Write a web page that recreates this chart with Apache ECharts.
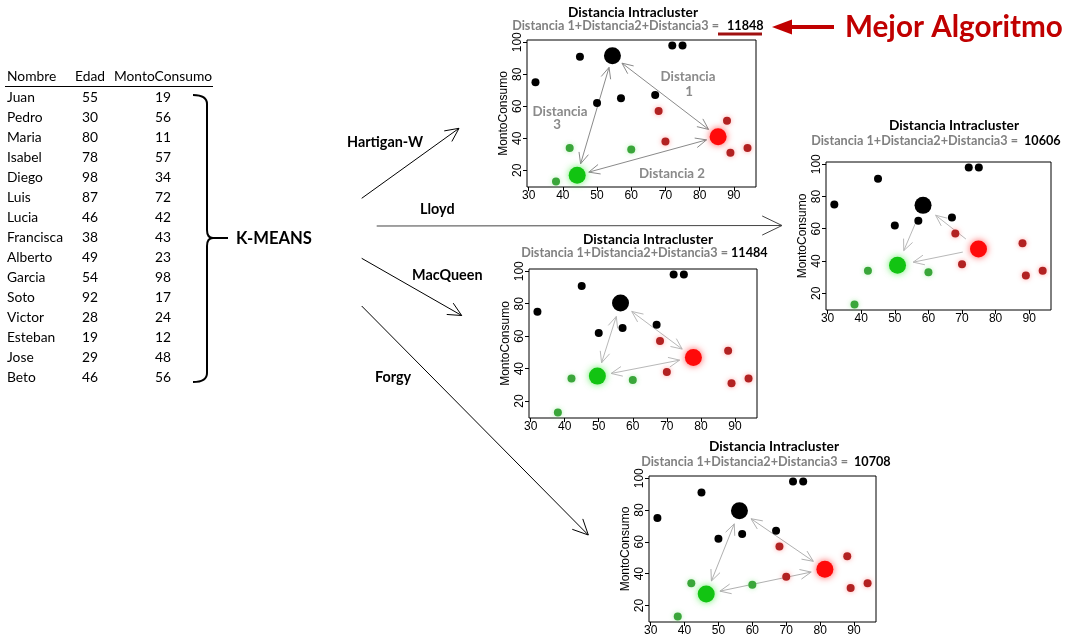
<!DOCTYPE html>
<html><head><meta charset="utf-8">
<script src="https://cdn.jsdelivr.net/npm/echarts@6/dist/echarts.min.js"></script>
<style>html,body{margin:0;padding:0;background:#fff}#c{width:1076px;height:644px}</style>
</head><body><div id="c"></div>
<script>
// ---------- DATA ----------
const tablaNombres = ['Juan','Pedro','Maria','Isabel','Diego','Luis','Lucia','Francisca','Alberto','Garcia','Soto','Victor','Esteban','Jose','Beto'];
const tablaEdad = [55,30,80,78,98,87,46,38,49,54,92,28,19,29,46];
const tablaMonto = [19,56,11,57,34,72,42,43,23,98,17,24,12,48,56];

const puntosEdad  = [32,45,72,75,50,57,67,68,70,88,89,94,42,60,38];
const puntosMonto = [75,91,98,98,62,65,67,57,38,51,31,34,34,33,13];
const puntosGrupo = [0,0,0,0,0,0,0,1,1,1,1,1,2,2,2]; // 0 negro, 1 rojo, 2 verde

const algoritmos = ['Hartigan-W','Lloyd','MacQueen','Forgy'];
const distancias = [11848,10606,11484,10708];
// centroides [negro, rojo, verde] por algoritmo
const centroidesEdad  = [[54.5,85.4,44.2],[58.4,74.9,50.8],[56.4,77.8,49.6],[56.2,81.4,46.4]];
const centroidesMonto = [[91.5,41.0,16.9],[74.5,47.5,37.3],[80.4,46.9,35.4],[79.5,42.8,27.2]];
// flechas: [desde, hasta, puntaDesde, puntaHasta]
const flechas = [
  [[0,1,1,1],[1,2,1,1],[2,0,1,1]],
  [[1,0,0,1],[1,2,0,1],[0,2,0,1]],
  [[0,1,1,1],[1,2,1,1],[2,0,1,1]],
  [[0,1,1,1],[1,2,1,1],[2,0,1,1]]
];
const xTicks = [30,40,50,60,70,80,90];
const yTicks = [20,40,60,80,100];

// ---------- STYLE / LAYOUT ----------
const grids = [
  {left:527, top:40,  width:229, height:147},
  {left:826, top:162, width:225, height:148},
  {left:529, top:269, width:228, height:149},
  {left:649, top:476, width:227, height:146}
];
const arrowStyle = [
  {color:'#8a8a8a', gap:12},
  {color:'#b8b8b8', gap:16},
  {color:'#b8b8b8', gap:14},
  {color:'#b0b0b0', gap:14}
];
const colPunto = ['#000000','#b22222','#3aa63a'];
const colCentro = ['#000000','#ff0a0a','#12c412'];
const glowPunto = [null,'rgba(255,90,90,0.55)','rgba(90,220,90,0.45)'];
const glowCentro = [null,'rgba(255,40,40,0.8)','rgba(40,230,40,0.7)'];

const FONT = 'Lato';
const AXF = '"Liberation Sans", Arial, sans-serif';
const mctx = document.createElement('canvas').getContext('2d');
function fit(text, weight, width){
  mctx.font = weight + ' 100px ' + FONT;
  return 100 * width / mctx.measureText(text).width;
}

function range(arr){
  const mn = Math.min(...arr), mx = Math.max(...arr), r = mx - mn;
  return [mn - 0.04*r, mx + 0.04*r];
}
const xr = range(puntosEdad), yr = range(puntosMonto);

const option = {
  backgroundColor:'#fff',
  animation:false,
  grid:[], xAxis:[], yAxis:[], series:[], graphic:[]
};

grids.forEach((g,i)=>{
  option.grid.push(Object.assign({show:true, borderColor:'#000', borderWidth:1, backgroundColor:'transparent'}, g));
  option.xAxis.push({
    type:'value', gridIndex:i, min:xr[0], max:xr[1],
    axisLine:{show:false}, splitLine:{show:false},
    axisTick:{show:true, length:4, customValues:xTicks, lineStyle:{color:'#000'}},
    axisLabel:{customValues:xTicks, color:'#000', fontSize:12, fontFamily:AXF, margin:3}
  });
  option.yAxis.push({
    type:'value', gridIndex:i, min:yr[0], max:yr[1],
    name:'MontoConsumo', nameLocation:'middle', nameGap:17, nameRotate:90,
    nameTextStyle:{color:'#000', fontSize:12, fontFamily:AXF},
    axisLine:{show:false}, splitLine:{show:false},
    axisTick:{show:true, length:4, customValues:yTicks, lineStyle:{color:'#000'}},
    axisLabel:{customValues:yTicks, color:'#000', fontSize:12, fontFamily:AXF, margin:3, rotate:90}
  });
  [0,1,2].forEach(k=>{
    const d = [];
    puntosEdad.forEach((x,j)=>{ if(puntosGrupo[j]===k) d.push([x, puntosMonto[j]]); });
    option.series.push({
      type:'scatter', xAxisIndex:i, yAxisIndex:i, symbol:'circle', symbolSize:8,
      data:d, silent:true,
      itemStyle:{color:colPunto[k], opacity:1, shadowBlur: glowPunto[k]?5:0, shadowColor: glowPunto[k]||'transparent'}
    });
  });
  [0,1,2].forEach(k=>{
    option.series.push({
      type:'scatter', xAxisIndex:i, yAxisIndex:i, symbol:'circle', symbolSize:17, z:3,
      data:[[centroidesEdad[i][k], centroidesMonto[i][k]]], silent:true,
      itemStyle:{color:colCentro[k], opacity:1, shadowBlur: glowCentro[k]?7:0, shadowColor: glowCentro[k]||'transparent'}
    });
  });
  const st = arrowStyle[i];
  option.series.push({
    type:'custom', xAxisIndex:i, yAxisIndex:i, silent:true, clip:false, z:2,
    encode:{x:[0,2], y:[1,3]},
    data: flechas[i].map(f=>[centroidesEdad[i][f[0]], centroidesMonto[i][f[0]], centroidesEdad[i][f[1]], centroidesMonto[i][f[1]], f[2], f[3]]),
    renderItem:(params, api)=>{
      const p1 = api.coord([api.value(0), api.value(1)]);
      const p2 = api.coord([api.value(2), api.value(3)]);
      const dx = p2[0]-p1[0], dy = p2[1]-p1[1], L = Math.hypot(dx,dy);
      const ux = dx/L, uy = dy/L;
      const a = [p1[0]+ux*st.gap, p1[1]+uy*st.gap];
      const b = [p2[0]-ux*st.gap, p2[1]-uy*st.gap];
      const children = [{type:'line', shape:{x1:a[0],y1:a[1],x2:b[0],y2:b[1]}, style:{stroke:st.color, lineWidth:1}}];
      const head = (tip, vx, vy)=>{
        const len = 12, ang = 0.42;
        const c = Math.cos(ang), s = Math.sin(ang);
        const r1 = [vx*c - vy*s, vx*s + vy*c], r2 = [vx*c + vy*s, -vx*s + vy*c];
        return {type:'polyline', shape:{points:[[tip[0]-r1[0]*len, tip[1]-r1[1]*len], tip, [tip[0]-r2[0]*len, tip[1]-r2[1]*len]]}, style:{stroke:st.color, lineWidth:1, fill:null}};
      };
      if(api.value(5)) children.push(head(b, ux, uy));
      if(api.value(4)) children.push(head(a, -ux, -uy));
      return {type:'group', children};
    }
  });
});

// ---------- GRAPHICS (texts, annotations) ----------
const G = option.graphic;
function txt(text, x, y, size, weight, fill, align, valign){
  G.push({type:'text', silent:true, z:10, style:{text, x, y, font: weight+' '+size.toFixed(2)+'px '+FONT, fill,
    align: align||'left', verticalAlign: valign||'middle', textAlign: align||'left', textVerticalAlign: valign||'middle'}});
}
function line(x1,y1,x2,y2,color,w){
  G.push({type:'line', silent:true, z:10, shape:{x1,y1,x2,y2}, style:{stroke:color, lineWidth:w||1}});
}
function curve(x1,y1,cx,cy,x2,y2,color,w){
  G.push({type:'bezierCurve', silent:true, z:10, shape:{x1,y1,x2,y2,cpx1:cx,cpy1:cy}, style:{stroke:color, lineWidth:w||1, fill:null}});
}
function arrow(x1,y1,x2,y2,color,len){
  line(x1,y1,x2,y2,color,1);
  const dx=x2-x1, dy=y2-y1, L=Math.hypot(dx,dy), ux=dx/L, uy=dy/L, ang=0.45;
  const c=Math.cos(ang), s=Math.sin(ang);
  const r1=[ux*c-uy*s, ux*s+uy*c], r2=[ux*c+uy*s, -ux*s+uy*c];
  G.push({type:'polyline', silent:true, z:10, shape:{points:[[x2-r1[0]*len,y2-r1[1]*len],[x2,y2],[x2-r2[0]*len,y2-r2[1]*len]]}, style:{stroke:color, lineWidth:1, fill:null}});
}

// table
const tSize = fit('Francisca','normal',56);
txt('Nombre', 7, 77, tSize, 'normal', '#000');
txt('Edad', 90, 77, tSize, 'normal', '#000', 'center');
txt('MontoConsumo', 163, 77, tSize, 'normal', '#000', 'center');
line(5, 86.5, 213, 86.5, '#000', 1);
tablaNombres.forEach((n,i)=>{
  const y = 97.5 + 20*i;
  txt(n, 7, y, tSize, 'normal', '#000');
  txt(String(tablaEdad[i]), 90, y, tSize, 'normal', '#000', 'center');
  txt(String(tablaMonto[i]), 163, y, tSize, 'normal', '#000', 'center');
});
// brace
curve(193,95, 207,95, 207,104, '#000', 2);
line(207,104, 207,230, '#000', 2);
curve(207,230, 207,238, 213,238, '#000', 2);
curve(213,238, 207,238, 207,246, '#000', 2);
line(207,246, 207,373, '#000', 2);
curve(207,373, 207,382, 193,382, '#000', 2);
line(212, 238, 228, 238, '#000', 2);
txt('K-MEANS', 236, 239, fit('K-MEANS','bold',76), 'bold', '#000');

// algorithm arrows
arrow(361.7,198.3,459,128.3,'#000',15);
arrow(376.7,226,782,225.5,'#444',22);
arrow(361.7,258.3,461.7,315.5,'#000',15);
arrow(361.7,306,588.3,535,'#000',17);
const aSize = fit('Hartigan-W','bold',76);
txt('Hartigan-W', 347, 142, aSize, 'bold', '#000');
txt('Lloyd', 420, 209, aSize, 'bold', '#000');
txt('MacQueen', 412, 275, aSize, 'bold', '#000');
txt('Forgy', 375, 377, aSize, 'bold', '#000');

// plot titles
const titulos = [
  {cx:633, y1:13,  grayR:719,  numL:727,  y2:26},
  {cx:954, y1:126, grayR:1018, numL:1024, y2:141},
  {cx:648, y1:240, grayR:728,  numL:731,  y2:253},
  {cx:774, y1:447, grayR:848,  numL:854,  y2:462}
];
const t1Size = fit('Distancia Intracluster','bold',130);
const grayTxt = 'Distancia 1+Distancia2+Distancia3 =';
const t2Size = fit(grayTxt,'bold',207);
titulos.forEach((t,i)=>{
  txt('Distancia Intracluster', t.cx, t.y1, t1Size, 'bold', '#000', 'center');
  txt(grayTxt, t.grayR, t.y2, t2Size, 'bold', '#808080', 'right');
  txt(String(distancias[i]), t.numL, t.y2, t2Size, 'bold', '#000', 'left');
});
// best algorithm marker
line(718, 34, 762, 34, '#a01010', 3);
line(790, 27, 834, 27, '#c00000', 4);
G.push({type:'polygon', silent:true, z:10, shape:{points:[[772,27],[792,19.5],[792,34.5]]}, style:{fill:'#c00000'}});
txt('Mejor Algoritmo', 845, 27, fit('Mejor Algoritmo','bold',218), 'bold', '#c00000');

// Distancia labels in first plot
const dSize = fit('Distancia','bold',55);
txt('Distancia', 688, 77, dSize, 'bold', '#8a8a8a', 'center');
txt('1', 689, 92, dSize, 'bold', '#8a8a8a', 'center');
txt('Distancia', 560, 112, dSize, 'bold', '#8a8a8a', 'center');
txt('3', 557, 125, dSize, 'bold', '#8a8a8a', 'center');
txt('Distancia 2', 672, 174, dSize, 'bold', '#8a8a8a', 'center');

const chart = echarts.init(document.getElementById('c'), null, {renderer:'canvas'});
chart.setOption(option);
</script>
</body></html>
